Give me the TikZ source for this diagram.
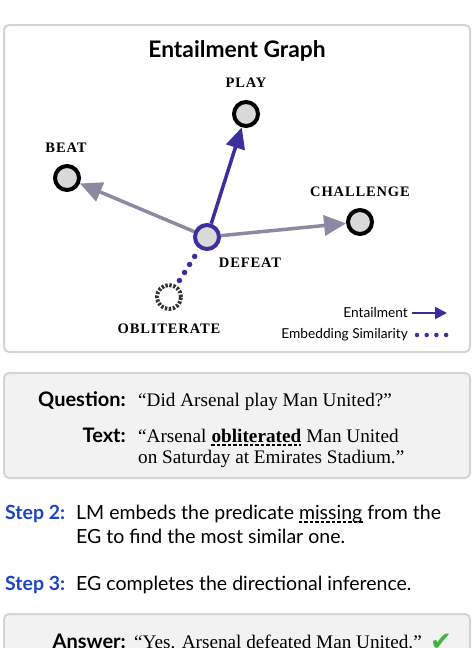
\documentclass[tikz,border=0pt]{standalone}
\usepackage{fontspec}
\setmainfont{Liberation Serif}
\newfontfamily\lato{Lato}
\newfontfamily\predfont[LetterSpace=6]{Liberation Serif}
\newfontfamily\symfont{DejaVu Sans}
\usetikzlibrary{arrows.meta}
\definecolor{egblue}{HTML}{3B2F9E}
\definecolor{stepblue}{HTML}{1C45C4}
\definecolor{edgegray}{HTML}{8C8AA2}
\definecolor{nodegray}{HTML}{D9D9D9}
\definecolor{framegray}{HTML}{D4D4D4}
\definecolor{panelgray}{HTML}{F2F2F2}
\definecolor{okgreen}{HTML}{3DB53D}
\def\sans#1{\fontsize{#1}{#1}\selectfont\lato}
\tikzset{
  pred/.style={circle, draw=black, line width=4pt, fill=nodegray, minimum size=24pt, inner sep=0pt},
  predlbl/.style={font=\fontsize{14.5}{14.5}\selectfont\predfont\bfseries, inner sep=0pt},
  entail/.style={egblue, line width=3.5pt, -{Triangle[length=21pt,width=19pt]}},
  other/.style={edgegray, line width=3.5pt, -{Triangle[length=22pt,width=20pt]}},
  simline/.style={egblue, line width=5.5pt, line cap=round, dash pattern=on 0pt off 9.5pt},
  panel/.style={draw=framegray, line width=2pt, rounded corners=5pt},
  keytext/.style={font=\sans{20}\bfseries, inner sep=0pt, anchor=base east},
  quotetext/.style={font=\fontsize{19.2}{19.2}\selectfont, inner sep=0pt, anchor=base west},
  steptext/.style={font=\sans{19.5}, inner sep=0pt, anchor=base west},
  dashunder/.style={line width=1.2pt, dash pattern=on 3.5pt off 2pt},
}
\begin{document}
\begin{tikzpicture}[x=1pt, y=-1pt]
	\useasboundingbox (0,0) rectangle (474,648);
	% entailment graph panel
	\draw[panel, fill=white] (4,25) rectangle (470,352);
	\node[font=\sans{22.8}\bfseries, inner sep=0pt] (title) at (237,51) {Entailment Graph};
	\node[pred] (play) at (246,114) {};
	\node[pred] (beat) at (67,178) {};
	\node[pred] (challenge) at (360,222) {};
	\node[pred, draw=egblue] (defeat) at (207,237) {};
	\node[pred, draw=black!80, fill=white, dash pattern=on 2.4pt off 1.6pt] (oblit) at (169,297) {};
	\node[predlbl] (playlbl) at (246,83) {PLAY};
	\node[predlbl] (beatlbl) at (66,148) {BEAT};
	\node[predlbl] (challengelbl) at (360,192) {CHALLENGE};
	\node[predlbl] (defeatlbl) at (250,263) {DEFEAT};
	\node[predlbl] (oblitlbl) at (169,329) {OBLITERATE};
	\draw[other] (defeat) -- (beat);
	\draw[other] (defeat) -- (challenge);
	\draw[entail] (defeat) -- (play);
	\draw[simline, shorten <=9pt, shorten >=5pt] (defeat) -- (oblit);
	% legend
	\node[font=\sans{13.7}, inner sep=0pt, anchor=base east] (entkey) at (408,317) {Entailment};
	\node[font=\sans{13.7}, inner sep=0pt, anchor=base east] (simkey) at (408,338) {Embedding Similarity};
	\coordinate (entA) at (412,313);
	\coordinate (entB) at (447,313);
	\coordinate (simA) at (417,335);
	\coordinate (simB) at (447,335);
	\draw[egblue, line width=2pt, -{Triangle[length=12pt,width=12pt]}] (entA) -- (entB);
	\draw[simline, line width=4.5pt, dash pattern=on 0pt off 9.7pt] (simA) -- (simB);
	% question panel
	\draw[panel, fill=panelgray] (4,373) rectangle (470,478);
	\node[keytext] (qkey) at (126,406) {Question:};
	\node[quotetext] (qtext) at (138,406) {``Did Arsenal play Man United?''};
	\node[keytext] (tkey) at (126,442) {Text:};
	\node[quotetext] (tline1) at (138,442) {``Arsenal};
	\node[quotetext, xshift=4.8pt, font=\fontsize{19.2}{19.2}\selectfont\bfseries] (oblword) at (tline1.base east) {obliterated};
	\node[quotetext, xshift=4.8pt] (tline1b) at (oblword.base east) {Man United};
	\node[quotetext] (tline2) at (138,463) {on Saturday at Emirates Stadium.''};
	\draw[dashunder] ([yshift=-3pt]oblword.base west) -- ([yshift=-3pt]oblword.base east);
	% steps
	\node[steptext, font=\sans{19.5}\bfseries, text=stepblue] (step2) at (5,519) {Step 2:};
	\node[steptext] (s2line1) at (76,519) {LM embeds the predicate};
	\node[steptext, xshift=4.6pt] (missword) at (s2line1.base east) {missing};
	\node[steptext, xshift=4.6pt] (s2line1b) at (missword.base east) {from the};
	\draw[dashunder] ([yshift=-3pt]missword.base west) -- ([yshift=-3pt]missword.base east);
	\node[steptext] (s2line2) at (76,543) {EG to find the most similar one.};
	\node[steptext, font=\sans{19.5}\bfseries, text=stepblue] (step3) at (5,590) {Step 3:};
	\node[steptext] (s3line) at (76,590) {EG completes the directional inference.};
	% answer panel
	\draw[panel, fill=panelgray] (4,614) rectangle (470,690);
	\node[keytext] (akey) at (126,648) {Answer:};
	\node[quotetext] (atext) at (134,648) {``Yes. Arsenal defeated Man United.''};
	\node[font=\fontsize{26}{26}\selectfont\symfont, text=okgreen, inner sep=0pt, anchor=base west] (check) at (430,650) {✔};
\end{tikzpicture}
\end{document}
